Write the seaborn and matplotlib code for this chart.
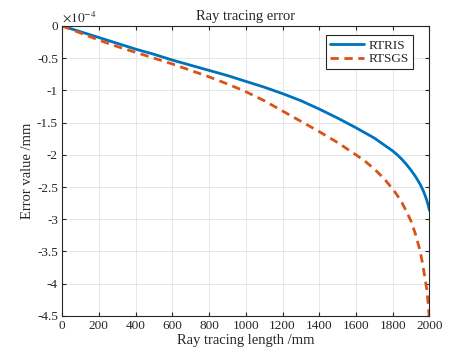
import numpy as np
import pandas as pd
import seaborn as sns
import matplotlib.pyplot as plt

# ray tracing length (mm) and error values (in units of 1e-4 mm)
length_rtris = [0, 100, 200, 300, 400, 500, 600, 700, 800, 900, 1000, 1100,
                1200, 1300, 1400, 1500, 1600, 1700, 1750, 1800, 1825, 1850,
                1875, 1900, 1925, 1950, 1965, 1975, 1985, 1995, 2000]
err_rtris = [0, -0.09, -0.18, -0.27, -0.36, -0.44, -0.53, -0.61, -0.69, -0.77,
             -0.86, -0.95, -1.05, -1.16, -1.29, -1.43, -1.58, -1.74, -1.84,
             -1.94, -2.00, -2.07, -2.15, -2.24, -2.34, -2.46, -2.55, -2.62,
             -2.70, -2.80, -2.86]

length_rtsgs = [0, 100, 200, 300, 400, 500, 600, 700, 800, 900, 1000, 1100,
                1200, 1300, 1400, 1500, 1600, 1650, 1700, 1750, 1800, 1825,
                1850, 1875, 1900, 1925, 1950, 1960, 1975, 1985, 1990, 1995,
                2000]
err_rtsgs = [0, -0.11, -0.22, -0.32, -0.41, -0.50, -0.59, -0.69, -0.79, -0.90,
             -1.02, -1.16, -1.32, -1.48, -1.64, -1.81, -2.00, -2.10, -2.22,
             -2.36, -2.53, -2.63, -2.74, -2.88, -3.03, -3.24, -3.50, -3.65,
             -3.90, -4.08, -4.22, -4.38, -4.55]

x_ticks = list(range(0, 2001, 200))
y_ticks = [0, -0.5, -1, -1.5, -2, -2.5, -3, -3.5, -4, -4.5]

sns.set_style("whitegrid")
plt.rcParams["font.family"] = ["Liberation Serif", "DejaVu Serif"]
plt.rcParams["mathtext.fontset"] = "stix"

df = pd.concat([
    pd.DataFrame({"length": length_rtris, "error": err_rtris, "method": "RTRIS"}),
    pd.DataFrame({"length": length_rtsgs, "error": err_rtsgs, "method": "RTSGS"}),
])

fig = plt.figure(figsize=(4.74, 3.55), dpi=100)
ax = fig.add_axes([0.131, 0.110, 0.775, 0.817])

sns.lineplot(data=df, x="length", y="error", hue="method", style="method",
             palette={"RTRIS": "#0072BD", "RTSGS": "#D95319"},
             dashes={"RTRIS": "", "RTSGS": (3, 2)},
             linewidth=2.0, ax=ax, sort=False)

ax.set_xlim(0, 2000)
ax.set_ylim(-4.5, 0)
ax.set_xticks(x_ticks)
ax.set_yticks(y_ticks)
ax.set_yticklabels(["%g" % v for v in y_ticks])
ax.tick_params(direction="in", length=3, labelsize=9.5, colors="#262626",
               top=True, right=True, left=True, bottom=True, pad=3)
ax.grid(True, color="#e3e3e3", linewidth=0.6)
for s in ax.spines.values():
    s.set_color("#262626")
    s.set_linewidth(0.8)

ax.set_xlabel("Ray tracing length /mm", fontsize=10.5, labelpad=1)
ax.set_ylabel("Error value /mm", fontsize=10.5, labelpad=2)
ax.set_title("Ray tracing error", fontsize=10.5, pad=4)
ax.text(0.0, 1.005, r"$\times10^{-4}$", transform=ax.transAxes,
        fontsize=9.5, ha="left", va="bottom", color="#262626")

leg = ax.legend(loc="upper right", fontsize=9.5, frameon=True, fancybox=False,
                edgecolor="#262626", framealpha=1, handlelength=2.6,
                borderpad=0.3, labelspacing=0.1, handletextpad=0.3,
                bbox_to_anchor=(0.972, 0.99))
leg.get_frame().set_linewidth(0.8)

fig.savefig("out.png", dpi=100)
